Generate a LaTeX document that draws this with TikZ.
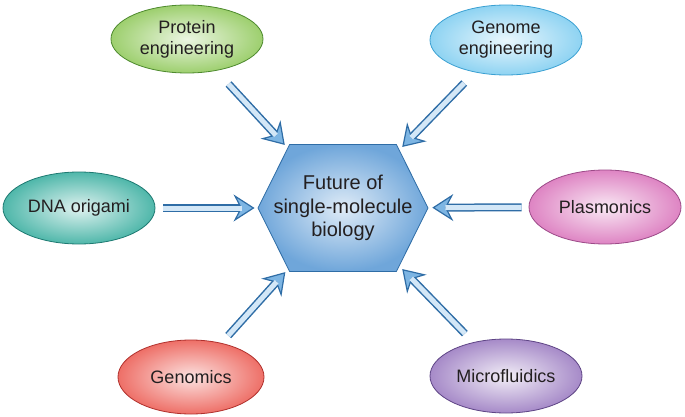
\documentclass[tikz,border=0pt]{standalone}
\usepackage{fontspec}
\setmainfont{Liberation Sans}
\usetikzlibrary{arrows.meta,shapes.geometric,shapes.symbols}
\definecolor{ink}{HTML}{231F20}
\definecolor{hexline}{HTML}{2F6DA6}
\definecolor{hexfill}{HTML}{6FA6DA}
\definecolor{arrline}{HTML}{2F6DA6}
\definecolor{arrfill}{HTML}{7DB5E3}
\definecolor{arrshaft}{HTML}{D3E7F7}
\definecolor{leaf}{HTML}{9DCF6E}
\definecolor{leafline}{HTML}{4E8A2E}
\definecolor{sky}{HTML}{8ED3F2}
\definecolor{skyline}{HTML}{3AA0D2}
\definecolor{sea}{HTML}{4FB7AA}
\definecolor{sealine}{HTML}{1E7A72}
\definecolor{rose}{HTML}{DE84C3}
\definecolor{roseline}{HTML}{9C4A88}
\definecolor{coral}{HTML}{EE6F67}
\definecolor{coralline}{HTML}{B0302C}
\definecolor{lilac}{HTML}{A68AC8}
\definecolor{lilacline}{HTML}{5E4485}
\tikzset{
  blob/.style={ellipse, inner sep=0pt, minimum width=152pt, minimum height=72pt, line width=0.8pt,
               font=\fontsize{18}{21}\selectfont, text=ink, align=center},
  protbox/.style={blob, minimum height=68pt, draw=leafline, inner color=leaf!20!white, outer color=leaf},
  genomebox/.style={blob, minimum height=70pt, draw=skyline, inner color=sky!18!white, outer color=sky},
  origamibox/.style={blob, draw=sealine, inner color=sea!18!white, outer color=sea},
  plasmbox/.style={blob, minimum height=74pt, draw=roseline, inner color=rose!18!white, outer color=rose},
  genomicsbox/.style={blob, minimum width=146pt, minimum height=74pt, draw=coralline, inner color=coral!20!white, outer color=coral},
  microbox/.style={blob, minimum height=74pt, draw=lilacline, inner color=lilac!15!white, outer color=lilac},
  hexbox/.style={signal, signal to=west and east, signal pointer angle=127, minimum width=170pt,
                 minimum height=127pt, inner sep=0pt, draw=hexline, line width=0.8pt,
                 inner color=hexfill!22!white, outer color=hexfill},
  hextext/.style={font=\fontsize{20}{23.5}\selectfont, text=ink, align=center},
  bigarrow/.style 2 args={draw=arrline, line width=8pt, shorten <=#1, shorten >=#2,
                          -{Stealth[length=21pt, width=27pt, inset=7pt, line width=1.2pt, fill=arrfill]},
                          postaction={draw=arrshaft, line width=5pt, -, shorten >=#2+13pt}}
}
\begin{document}
\begin{tikzpicture}[x=1pt, y=-1pt]
  \useasboundingbox (0,0) rectangle (685,417);
  % centre
  \node[hexbox] (hex) at (343,208) {};
  \node[hextext] (hextitle) at (hex) {Future of\\single-molecule\\biology};
  % the six fields
  \node[protbox] (prot) at (187,39) {Protein\\engineering};
  \node[genomebox] (genome) at (506,40) {Genome\\engineering};
  \node[origamibox] (origami) at (79,208) {DNA origami};
  \node[plasmbox] (plasm) at (605,207) {Plasmonics};
  \node[genomicsbox] (genomics) at (191,377) {Genomics};
  \node[microbox] (micro) at (506,376) {Microfluidics};
  % arrows into the centre
  \draw[bigarrow={18pt}{4pt}] (prot) -- (hex);
  \draw[bigarrow={15pt}{4pt}] (genome) -- (hex);
  \draw[bigarrow={8pt}{3pt}] (origami) -- (hex);
  \draw[bigarrow={7pt}{4pt}] (plasm) -- (hex);
  \draw[bigarrow={10pt}{4pt}] (genomics) -- (hex);
  \draw[bigarrow={12pt}{4pt}] (micro) -- (hex);
\end{tikzpicture}
\end{document}
